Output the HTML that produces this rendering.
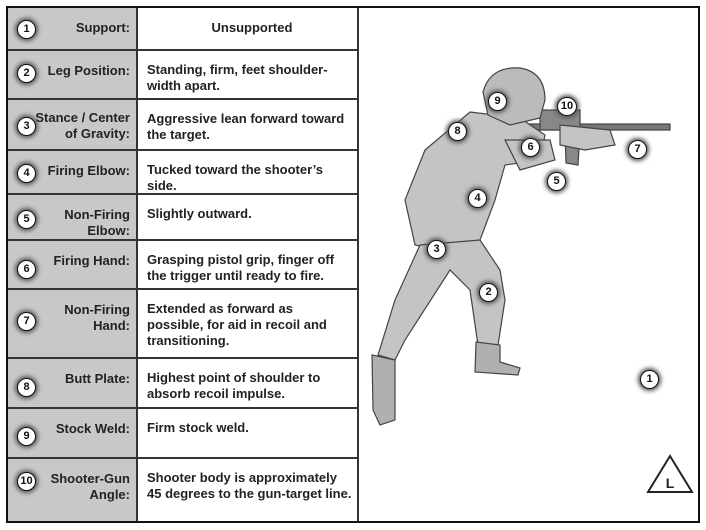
<!DOCTYPE html>
<html><head><style>
body{margin:0;width:706px;height:530px;background:#fff;font-family:"Liberation Sans",Arial,sans-serif;position:relative;overflow:hidden}
#frame{position:absolute;left:6px;top:6px;width:690px;height:513px;border:2px solid #111}
.row{position:absolute;left:8px;width:349px;border-bottom:2px solid #333}
.lab{position:absolute;left:0;top:0;bottom:0;width:128px;background:#c8c8c8;border-right:2px solid #333}
.lab span{position:absolute;right:6px;top:12px;text-align:right;font-weight:bold;font-size:13px;color:#222;line-height:16px;white-space:nowrap}
.val{position:absolute;left:139px;top:11px;width:200px;font-weight:bold;font-size:13px;color:#222;line-height:16px}
.num{position:absolute;width:17px;height:17px;border-radius:50%;background:#fff;border:1.5px solid #111;box-shadow:0 0 4px 2px #555;font-size:11px;font-weight:bold;text-align:center;line-height:17px;color:#111}
</style></head><body>
<div id="frame"></div>
<div class="row" style="top:8px;height:41px"><div class="lab"><span>Support:</span></div><div class="val" style="text-align:center;top:12px;width:210px">Unsupported</div></div>
<div class="row" style="top:51px;height:47px"><div class="lab"><span>Leg Position:</span></div><div class="val">Standing, firm, feet shoulder-width apart.</div></div>
<div class="row" style="top:100px;height:49px"><div class="lab"><span style="top:10px">Stance / Center<br>of Gravity:</span></div><div class="val">Aggressive lean forward toward the target.</div></div>
<div class="row" style="top:151px;height:42px"><div class="lab"><span>Firing Elbow:</span></div><div class="val">Tucked toward the shooter’s side.</div></div>
<div class="row" style="top:195px;height:44px"><div class="lab"><span>Non-Firing<br>Elbow:</span></div><div class="val">Slightly outward.</div></div>
<div class="row" style="top:241px;height:47px"><div class="lab"><span>Firing Hand:</span></div><div class="val">Grasping pistol grip, finger off the trigger until ready to fire.</div></div>
<div class="row" style="top:290px;height:67px"><div class="lab"><span>Non-Firing<br>Hand:</span></div><div class="val">Extended as forward as possible, for aid in recoil and transitioning.</div></div>
<div class="row" style="top:359px;height:48px"><div class="lab"><span>Butt Plate:</span></div><div class="val">Highest point of shoulder to absorb recoil impulse.</div></div>
<div class="row" style="top:409px;height:48px"><div class="lab"><span>Stock Weld:</span></div><div class="val">Firm stock weld.</div></div>
<div class="row" style="top:459px;height:62px;border-bottom:none"><div class="lab"><span>Shooter-Gun<br>Angle:</span></div><div class="val" style="width:215px;white-space:nowrap">Shooter body is approximately<br>45 degrees to the gun-target line.</div></div>

<div class="num" style="left:17px;top:20px">1</div>
<div class="num" style="left:17px;top:64px">2</div>
<div class="num" style="left:17px;top:117px">3</div>
<div class="num" style="left:17px;top:164px">4</div>
<div class="num" style="left:17px;top:210px">5</div>
<div class="num" style="left:17px;top:260px">6</div>
<div class="num" style="left:17px;top:312px">7</div>
<div class="num" style="left:17px;top:378px">8</div>
<div class="num" style="left:17px;top:427px">9</div>
<div class="num" style="left:17px;top:472px">10</div>

<div style="position:absolute;left:357px;top:8px;width:2px;height:513px;background:#333"></div>

<svg style="position:absolute;left:0;top:0" width="706" height="530">
<g fill="#c4c4c4" stroke="#444" stroke-width="1.2">
<rect x="505" y="124" width="165" height="6" fill="#777"/>
<rect x="540" y="110" width="40" height="20" fill="#888"/>
<path d="M565 132 L580 132 L578 165 L566 163 Z" fill="#888"/>
<path d="M470 112 L520 118 L545 135 L540 160 L505 165 L495 200 L480 240 L440 250 L415 245 L405 200 L425 150 Z"/>
<path d="M505 140 L550 140 L555 160 L520 170 Z"/>
<path d="M560 125 L610 130 L615 145 L585 150 L560 145 Z"/>
<path d="M483 92 Q490 66 520 68 Q545 72 545 100 L540 118 L510 125 L488 115 Z" fill="#bbb"/>
<path d="M420 245 L480 240 L500 270 L505 300 L498 345 L478 345 L470 290 L450 270 L405 340 L395 360 L378 355 L395 300 Z"/>
<path d="M372 355 L395 360 L395 420 L380 425 L373 410 Z" fill="#b0b0b0"/>
<path d="M476 342 L500 345 L500 362 L520 368 L518 375 L475 372 Z" fill="#b0b0b0"/>
</g>
<path d="M648 492 L670 456 L692 492 Z" fill="#fff" stroke="#222" stroke-width="2"/>
<text x="670" y="488" text-anchor="middle" font-family="Liberation Sans" font-size="14" font-weight="bold" fill="#222">L</text>
</svg>

<div class="num" style="left:640px;top:370px">1</div>
<div class="num" style="left:479px;top:283px">2</div>
<div class="num" style="left:427px;top:240px">3</div>
<div class="num" style="left:468px;top:189px">4</div>
<div class="num" style="left:547px;top:172px">5</div>
<div class="num" style="left:521px;top:138px">6</div>
<div class="num" style="left:628px;top:140px">7</div>
<div class="num" style="left:448px;top:122px">8</div>
<div class="num" style="left:488px;top:92px">9</div>
<div class="num" style="left:557px;top:97px;width:18px">10</div>
</body></html>
